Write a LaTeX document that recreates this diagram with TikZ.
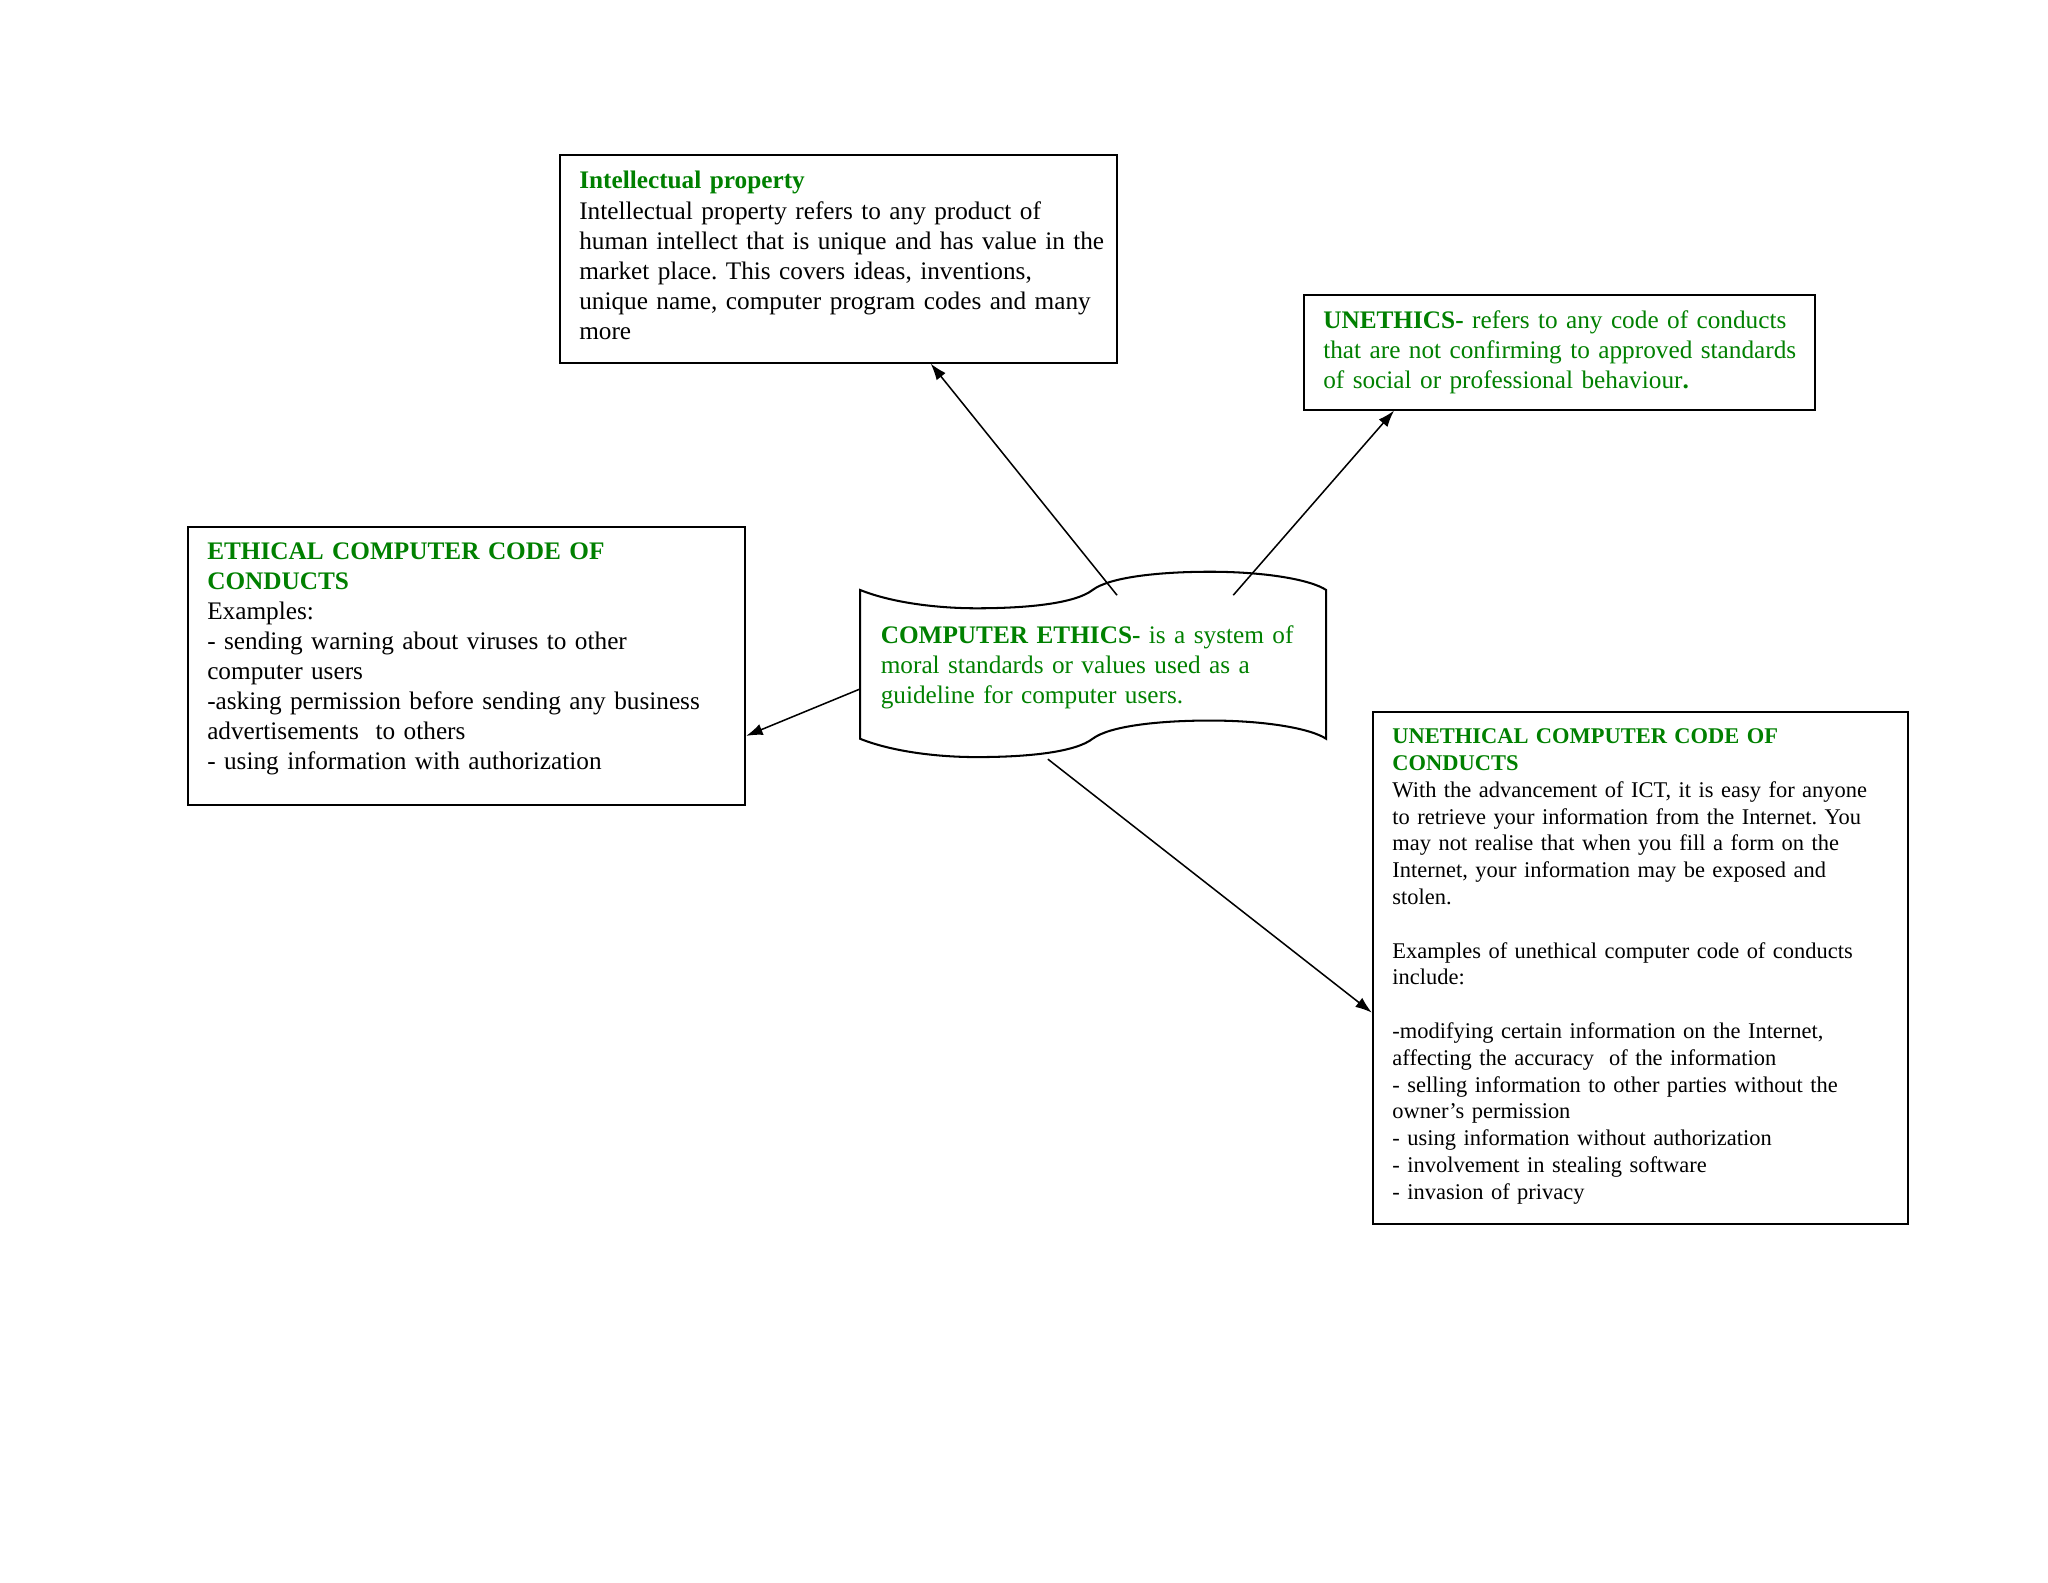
\documentclass[tikz,border=0pt]{standalone}
\usepackage{fontspec}
\setmainfont{Liberation Serif}
\usetikzlibrary{arrows.meta,calc}

\definecolor{ethicsgreen}{RGB}{0,128,0}
\newlength\unitpx
\setlength\unitpx{0.01797cm}

\begin{document}
\frenchspacing
\begin{tikzpicture}[x=\unitpx,y=-\unitpx]
    \useasboundingbox (0,0) rectangle (1569,1212);

    \begin{scope}[every node/.style={draw,line width=0.8pt,rectangle,anchor=north west,
                  align=left,inner xsep=15\unitpx,inner ysep=0pt,
                  font=\fontsize{9.9}{11.76}\selectfont}]
        \node[text width=397\unitpx,text height=26\unitpx,text depth=133\unitpx] (intel) at (428,118)
            {\textcolor{ethicsgreen}{\textbf{Intellectual property}}\\
             Intellectual property refers to any product of\\
             \mbox{human intellect that is unique and has value in the}\\
             market place. This covers ideas, inventions,\\
             unique name, computer program codes and many\\
             more};
        \node[text width=362\unitpx,text height=26\unitpx,text depth=62\unitpx,text=ethicsgreen] (unethics) at (998,225)
            {\textbf{UNETHICS-} refers to any code of conducts\\
             \mbox{that are not confirming to approved standards}\\
             of social or professional behaviour\textbf{.}};
        \node[text width=397\unitpx,text height=25\unitpx,text depth=188\unitpx] (ethical) at (143,403)
            {\textcolor{ethicsgreen}{\textbf{ETHICAL COMPUTER CODE OF}}\\
             \textcolor{ethicsgreen}{\textbf{CONDUCTS}}\\
             Examples:\\
             - sending warning about viruses to other\\
             computer users\\
             -asking permission before sending any business\\
             advertisements\ \ to others\\
             - using information with authorization};
        \node[text width=380\unitpx,text height=24\unitpx,text depth=368\unitpx,
              font=\fontsize{8.8}{10.5}\selectfont] (unethical) at (1051,545)
            {\textcolor{ethicsgreen}{\textbf{UNETHICAL COMPUTER CODE OF}}\\
             \textcolor{ethicsgreen}{\textbf{CONDUCTS}}\\
             With the advancement of ICT, it is easy for anyone\\
             to retrieve your information from the Internet. You\\
             may not realise that when you fill a form on the\\
             Internet, your information may be exposed and\\
             stolen.\\[10.5pt]
             Examples of unethical computer code of conducts\\
             include:\\[10.5pt]
             -modifying certain information on the Internet,\\
             affecting the accuracy\ \ of the information\\
             - selling information to other parties without the\\
             owner’s permission\\
             - using information without authorization\\
             - involvement in stealing software\\
             - invasion of privacy};
        \node[draw=none,text width=327\unitpx,text height=54\unitpx,text depth=88\unitpx,
              text=ethicsgreen] (ethics) at (659,438)
            {\textbf{COMPUTER ETHICS-} is a system of\\
             moral standards or values used as a\\
             guideline for computer users.};
    \end{scope}

    % tape outline round the centre node
    \begin{scope}[shift={(ethics.north west)},line width=0.8pt]
        \draw (0,14) .. controls (25,24) and (60,28) .. (89,28)
              .. controls (130,28) and (165,24) .. (178,14)
              .. controls (191,4) and (230,0) .. (268,0)
              .. controls (310,0) and (345,6) .. (357,14)
              -- (357,128)
              .. controls (345,120) and (310,114) .. (268,114)
              .. controls (230,114) and (191,118) .. (178,128)
              .. controls (165,138) and (130,142) .. (89,142)
              .. controls (60,142) and (25,138) .. (0,128) -- cycle;
    \end{scope}

    \coordinate (ethics-ip) at ($(ethics.north)+(17.5,18)$);
    \coordinate (ethics-un) at ($(ethics.north)+(106.5,18)$);
    \coordinate (ethics-et) at ($(ethics.west)+(0,18)$);
    \coordinate (ethics-ue) at ($(ethics.south)+(-35.5,0)$);

    \begin{scope}[every path/.style={line width=0.6pt,-{Latex[length=6.5pt,width=4.5pt]}}]
        \draw (ethics-ip) -- ($(intel.south west)+(285,0)$);
        \draw (ethics-un) -- ($(unethics.south west)+(70,0)$);
        \draw (ethics-et) -- ($(ethical.east)+(0,53.5)$);
        \draw (ethics-ue) -- ($(unethical.west)+(0,34)$);
    \end{scope}
\end{tikzpicture}
\end{document}
